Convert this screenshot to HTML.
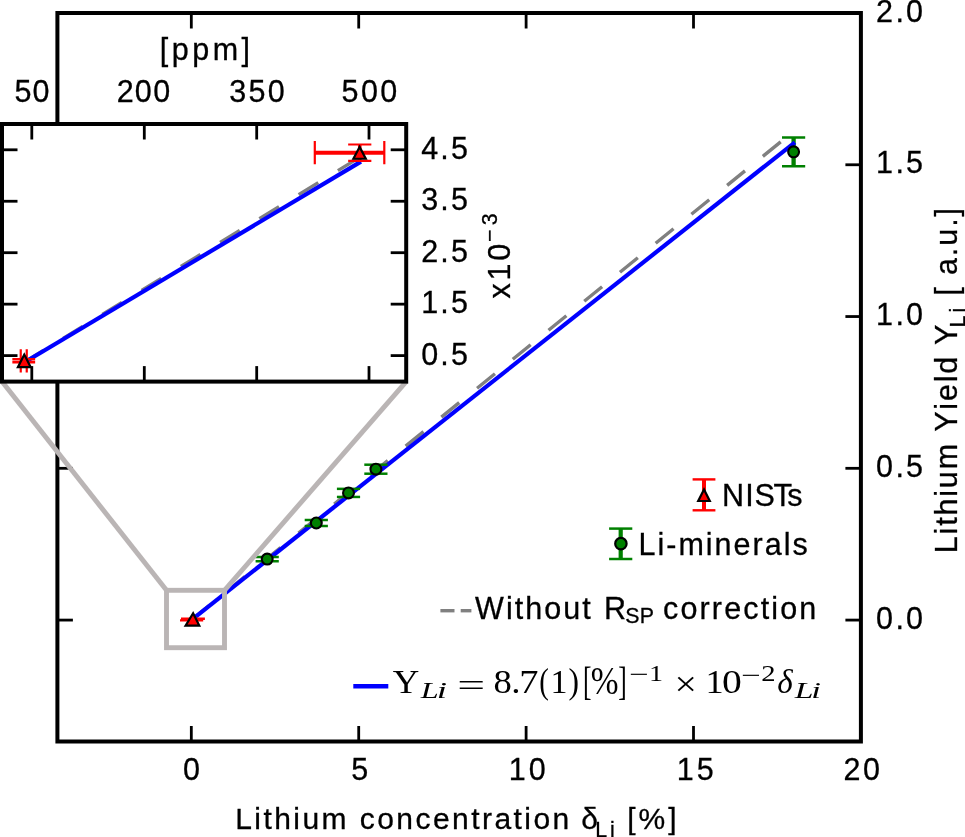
<!DOCTYPE html>
<html><head><meta charset="utf-8"><title>Lithium yield</title>
<style>html,body{margin:0;padding:0;background:#fff;overflow:hidden}svg{display:block}text{font-kerning:none;stroke:#000;stroke-width:0.3px}</style>
</head><body>
<svg width="965" height="837" viewBox="0 0 965 837">
<rect x="0" y="0" width="965" height="837" fill="#fff"/>
<clipPath id="cm"><rect x="57.40" y="13.00" width="803.50" height="728.50"/></clipPath>
<g clip-path="url(#cm)">
<line x1="191.32" y1="620.08" x2="793.94" y2="131.08" stroke="#808080" stroke-width="3.40" stroke-dasharray="23 23"/>
<line x1="267.20" y1="556.95" x2="267.20" y2="561.25" stroke="#008000" stroke-width="4.30"/>
<line x1="316.30" y1="519.90" x2="316.30" y2="526.10" stroke="#008000" stroke-width="4.30"/>
<line x1="348.50" y1="488.85" x2="348.50" y2="496.95" stroke="#008000" stroke-width="4.30"/>
<line x1="375.90" y1="464.70" x2="375.90" y2="473.70" stroke="#008000" stroke-width="4.30"/>
<line x1="793.60" y1="137.40" x2="793.60" y2="166.30" stroke="#008000" stroke-width="4.30"/>
<line x1="191.32" y1="620.08" x2="794.95" y2="142.30" stroke="#0000ff" stroke-width="4.20"/>
<line x1="255.60" y1="556.95" x2="278.80" y2="556.95" stroke="#008000" stroke-width="2.50"/>
<line x1="255.60" y1="561.25" x2="278.80" y2="561.25" stroke="#008000" stroke-width="2.50"/>
<line x1="304.70" y1="519.90" x2="327.90" y2="519.90" stroke="#008000" stroke-width="2.50"/>
<line x1="304.70" y1="526.10" x2="327.90" y2="526.10" stroke="#008000" stroke-width="2.50"/>
<line x1="336.90" y1="488.85" x2="360.10" y2="488.85" stroke="#008000" stroke-width="2.50"/>
<line x1="336.90" y1="496.95" x2="360.10" y2="496.95" stroke="#008000" stroke-width="2.50"/>
<line x1="364.30" y1="464.70" x2="387.50" y2="464.70" stroke="#008000" stroke-width="2.50"/>
<line x1="364.30" y1="473.70" x2="387.50" y2="473.70" stroke="#008000" stroke-width="2.50"/>
<line x1="782.00" y1="137.40" x2="805.20" y2="137.40" stroke="#008000" stroke-width="2.50"/>
<line x1="782.00" y1="166.30" x2="805.20" y2="166.30" stroke="#008000" stroke-width="2.50"/>
<circle cx="267.20" cy="559.10" r="5.45" fill="#008000" stroke="#000" stroke-width="2.1"/>
<circle cx="316.30" cy="523.00" r="5.45" fill="#008000" stroke="#000" stroke-width="2.1"/>
<circle cx="348.50" cy="492.90" r="5.45" fill="#008000" stroke="#000" stroke-width="2.1"/>
<circle cx="375.90" cy="469.20" r="5.45" fill="#008000" stroke="#000" stroke-width="2.1"/>
<circle cx="793.60" cy="151.85" r="5.45" fill="#008000" stroke="#000" stroke-width="2.1"/>
<line x1="180.00" y1="620.45" x2="203.20" y2="620.45" stroke="#ff0000" stroke-width="2.30"/>
<line x1="181.00" y1="618.75" x2="204.90" y2="618.75" stroke="#ff0000" stroke-width="2.30"/>
</g>
<polygon points="193.10,613.30 185.60,625.60 199.30,625.60" fill="#ff0000" stroke="#000" stroke-width="2.2"/>
<line x1="191.32" y1="741.50" x2="191.32" y2="726.00" stroke="#000" stroke-width="2.80"/>
<line x1="191.32" y1="13.00" x2="191.32" y2="28.50" stroke="#000" stroke-width="2.80"/>
<line x1="358.71" y1="741.50" x2="358.71" y2="726.00" stroke="#000" stroke-width="2.80"/>
<line x1="358.71" y1="13.00" x2="358.71" y2="28.50" stroke="#000" stroke-width="2.80"/>
<line x1="526.11" y1="741.50" x2="526.11" y2="726.00" stroke="#000" stroke-width="2.80"/>
<line x1="526.11" y1="13.00" x2="526.11" y2="28.50" stroke="#000" stroke-width="2.80"/>
<line x1="693.50" y1="741.50" x2="693.50" y2="726.00" stroke="#000" stroke-width="2.80"/>
<line x1="693.50" y1="13.00" x2="693.50" y2="28.50" stroke="#000" stroke-width="2.80"/>
<line x1="57.40" y1="620.08" x2="72.90" y2="620.08" stroke="#000" stroke-width="2.80"/>
<line x1="860.90" y1="620.08" x2="845.40" y2="620.08" stroke="#000" stroke-width="2.80"/>
<line x1="57.40" y1="468.31" x2="72.90" y2="468.31" stroke="#000" stroke-width="2.80"/>
<line x1="860.90" y1="468.31" x2="845.40" y2="468.31" stroke="#000" stroke-width="2.80"/>
<line x1="57.40" y1="316.54" x2="72.90" y2="316.54" stroke="#000" stroke-width="2.80"/>
<line x1="860.90" y1="316.54" x2="845.40" y2="316.54" stroke="#000" stroke-width="2.80"/>
<line x1="57.40" y1="164.77" x2="72.90" y2="164.77" stroke="#000" stroke-width="2.80"/>
<line x1="860.90" y1="164.77" x2="845.40" y2="164.77" stroke="#000" stroke-width="2.80"/>
<rect x="57.40" y="13.00" width="803.50" height="728.50" fill="none" stroke="#000" stroke-width="4.00"/>
<text x="182.91" y="780.30" style="font-family:'Liberation Sans',sans-serif;font-size:30.50px;" fill="#000">0</text>
<text x="351.33" y="780.30" style="font-family:'Liberation Sans',sans-serif;font-size:30.50px;" fill="#000">5</text>
<text x="508.68 528.71" y="780.30" style="font-family:'Liberation Sans',sans-serif;font-size:30.50px;" fill="#000">10</text>
<text x="676.68 696.68" y="780.30" style="font-family:'Liberation Sans',sans-serif;font-size:30.50px;" fill="#000">15</text>
<text x="843.47 862.91" y="780.30" style="font-family:'Liberation Sans',sans-serif;font-size:30.50px;" fill="#000">20</text>
<text x="876.10 895.60 905.90" y="21.60" style="font-family:'Liberation Sans',sans-serif;font-size:30.50px;" fill="#000">2.0</text>
<text x="876.10 895.60 905.90" y="173.37" style="font-family:'Liberation Sans',sans-serif;font-size:30.50px;" fill="#000">1.5</text>
<text x="876.10 895.60 905.90" y="325.14" style="font-family:'Liberation Sans',sans-serif;font-size:30.50px;" fill="#000">1.0</text>
<text x="876.10 895.60 905.90" y="476.91" style="font-family:'Liberation Sans',sans-serif;font-size:30.50px;" fill="#000">0.5</text>
<text x="876.10 895.60 905.90" y="628.68" style="font-family:'Liberation Sans',sans-serif;font-size:30.50px;" fill="#000">0.0</text>
<rect x="166.50" y="590.30" width="58.00" height="57.40" fill="none" stroke="#bab5b5" stroke-width="4.9"/>
<line x1="2.00" y1="381.60" x2="166.50" y2="590.30" stroke="#bab5b5" stroke-width="4.90"/>
<line x1="406.20" y1="381.60" x2="224.50" y2="590.30" stroke="#bab5b5" stroke-width="4.90"/>
<rect x="2.00" y="124.00" width="404.20" height="257.60" fill="#fff"/>
<clipPath id="ci"><rect x="2.00" y="124.00" width="404.20" height="257.60"/></clipPath>
<g clip-path="url(#ci)">
<line x1="23.80" y1="362.40" x2="359.75" y2="157.30" stroke="#808080" stroke-width="3.40" stroke-dasharray="23 23"/>
<line x1="23.80" y1="362.80" x2="360.95" y2="161.60" stroke="#0000ff" stroke-width="4.20"/>
<line x1="20.75" y1="360.80" x2="26.75" y2="360.80" stroke="#ff0000" stroke-width="2.40"/>
<line x1="20.75" y1="349.20" x2="20.75" y2="372.40" stroke="#ff0000" stroke-width="2.20"/>
<line x1="26.75" y1="349.20" x2="26.75" y2="372.40" stroke="#ff0000" stroke-width="2.20"/>
<line x1="12.35" y1="359.35" x2="35.15" y2="359.35" stroke="#ff0000" stroke-width="2.50"/>
<line x1="12.35" y1="362.25" x2="35.15" y2="362.25" stroke="#ff0000" stroke-width="2.50"/>
<polygon points="24.30,354.60 17.90,367.20 30.70,367.20" fill="#ff0000" stroke="#000" stroke-width="2.20" stroke-linejoin="miter"/>
<line x1="314.80" y1="152.65" x2="384.30" y2="152.65" stroke="#ff0000" stroke-width="4.00"/>
<line x1="314.80" y1="140.95" x2="314.80" y2="164.35" stroke="#ff0000" stroke-width="2.20"/>
<line x1="384.30" y1="140.95" x2="384.30" y2="164.35" stroke="#ff0000" stroke-width="2.20"/>
<line x1="359.75" y1="144.50" x2="359.75" y2="160.80" stroke="#ff0000" stroke-width="3.60"/>
<line x1="348.15" y1="144.50" x2="371.35" y2="144.50" stroke="#ff0000" stroke-width="2.20"/>
<line x1="348.15" y1="160.80" x2="371.35" y2="160.80" stroke="#ff0000" stroke-width="2.20"/>
<polygon points="359.60,146.95 353.40,158.75 365.80,158.75" fill="#ff0000" stroke="#000" stroke-width="2.20" stroke-linejoin="miter"/>
</g>
<line x1="31.80" y1="124.00" x2="31.80" y2="139.50" stroke="#000" stroke-width="2.80"/>
<line x1="31.80" y1="381.60" x2="31.80" y2="366.10" stroke="#000" stroke-width="2.80"/>
<line x1="144.30" y1="124.00" x2="144.30" y2="139.50" stroke="#000" stroke-width="2.80"/>
<line x1="144.30" y1="381.60" x2="144.30" y2="366.10" stroke="#000" stroke-width="2.80"/>
<line x1="256.70" y1="124.00" x2="256.70" y2="139.50" stroke="#000" stroke-width="2.80"/>
<line x1="256.70" y1="381.60" x2="256.70" y2="366.10" stroke="#000" stroke-width="2.80"/>
<line x1="369.00" y1="124.00" x2="369.00" y2="139.50" stroke="#000" stroke-width="2.80"/>
<line x1="369.00" y1="381.60" x2="369.00" y2="366.10" stroke="#000" stroke-width="2.80"/>
<line x1="2.00" y1="149.80" x2="17.50" y2="149.80" stroke="#000" stroke-width="2.80"/>
<line x1="406.20" y1="149.80" x2="390.70" y2="149.80" stroke="#000" stroke-width="2.80"/>
<line x1="2.00" y1="201.25" x2="17.50" y2="201.25" stroke="#000" stroke-width="2.80"/>
<line x1="406.20" y1="201.25" x2="390.70" y2="201.25" stroke="#000" stroke-width="2.80"/>
<line x1="2.00" y1="252.70" x2="17.50" y2="252.70" stroke="#000" stroke-width="2.80"/>
<line x1="406.20" y1="252.70" x2="390.70" y2="252.70" stroke="#000" stroke-width="2.80"/>
<line x1="2.00" y1="304.15" x2="17.50" y2="304.15" stroke="#000" stroke-width="2.80"/>
<line x1="406.20" y1="304.15" x2="390.70" y2="304.15" stroke="#000" stroke-width="2.80"/>
<line x1="2.00" y1="355.60" x2="17.50" y2="355.60" stroke="#000" stroke-width="2.80"/>
<line x1="406.20" y1="355.60" x2="390.70" y2="355.60" stroke="#000" stroke-width="2.80"/>
<rect x="2.00" y="124.00" width="404.20" height="257.60" fill="none" stroke="#000" stroke-width="4.00"/>
<text x="14.38 32.61" y="102.30" style="font-family:'Liberation Sans',sans-serif;font-size:30.50px;" fill="#000">50</text>
<text x="116.87 134.81 153.31" y="102.30" style="font-family:'Liberation Sans',sans-serif;font-size:30.50px;" fill="#000">200</text>
<text x="229.14 248.48 267.81" y="102.30" style="font-family:'Liberation Sans',sans-serif;font-size:30.50px;" fill="#000">350</text>
<text x="341.38 361.01 380.21" y="102.30" style="font-family:'Liberation Sans',sans-serif;font-size:30.50px;" fill="#000">500</text>
<text x="421.30 440.30 450.90" y="158.70" style="font-family:'Liberation Sans',sans-serif;font-size:30.50px;" fill="#000">4.5</text>
<text x="421.30 440.30 450.90" y="210.15" style="font-family:'Liberation Sans',sans-serif;font-size:30.50px;" fill="#000">3.5</text>
<text x="421.30 440.30 450.90" y="261.60" style="font-family:'Liberation Sans',sans-serif;font-size:30.50px;" fill="#000">2.5</text>
<text x="421.30 440.30 450.90" y="313.05" style="font-family:'Liberation Sans',sans-serif;font-size:30.50px;" fill="#000">1.5</text>
<text x="421.30 440.30 450.90" y="364.50" style="font-family:'Liberation Sans',sans-serif;font-size:30.50px;" fill="#000">0.5</text>
<text x="159.83" y="60.20" style="font-family:'Liberation Sans',sans-serif;font-size:30.50px;letter-spacing:3.47px;" fill="#000">[ppm]</text>
<text x="-0.34" y="0.00" style="font-family:'Liberation Sans',sans-serif;font-size:30.50px;letter-spacing:2.78px;" fill="#000" transform="translate(510.0 298.10) rotate(-90)">x10</text>
<text x="56.05" y="-13.30" style="font-family:'Liberation Sans',sans-serif;font-size:21.35px;" fill="#000" transform="translate(510.0 298.10) rotate(-90)">−</text>
<text x="72.79" y="-13.20" style="font-family:'Liberation Sans',sans-serif;font-size:21.35px;" fill="#000" transform="translate(510.0 298.10) rotate(-90)">3</text>
<line x1="704.00" y1="479.40" x2="704.00" y2="510.30" stroke="#ff0000" stroke-width="4.00"/>
<line x1="692.60" y1="479.40" x2="715.40" y2="479.40" stroke="#ff0000" stroke-width="2.40"/>
<line x1="692.60" y1="510.30" x2="715.40" y2="510.30" stroke="#ff0000" stroke-width="2.40"/>
<polygon points="704.00,489.40 698.20,501.00 709.80,501.00" fill="#ff0000" stroke="#000" stroke-width="2.20" stroke-linejoin="miter"/>
<text x="722.10 745.19 754.41 773.51 787.35" y="505.70" style="font-family:'Liberation Sans',sans-serif;font-size:30.50px;" fill="#000">NISTs</text>
<line x1="620.70" y1="528.60" x2="620.70" y2="559.00" stroke="#008000" stroke-width="4.20"/>
<line x1="609.10" y1="528.60" x2="632.30" y2="528.60" stroke="#008000" stroke-width="2.50"/>
<line x1="609.10" y1="559.00" x2="632.30" y2="559.00" stroke="#008000" stroke-width="2.50"/>
<circle cx="620.90" cy="543.65" r="5.7" fill="#008000" stroke="#000" stroke-width="2.2"/>
<text x="638.40" y="554.60" style="font-family:'Liberation Sans',sans-serif;font-size:30.50px;letter-spacing:2.03px;" fill="#000">Li-minerals</text>
<line x1="440.40" y1="610.70" x2="454.50" y2="610.70" stroke="#808080" stroke-width="3.40"/>
<line x1="460.70" y1="610.70" x2="471.40" y2="610.70" stroke="#808080" stroke-width="3.40"/>
<text x="475.07" y="619.00" style="font-family:'Liberation Sans',sans-serif;font-size:30.50px;letter-spacing:2.06px;" fill="#000">Without</text>
<text x="603.90" y="619.00" style="font-family:'Liberation Sans',sans-serif;font-size:30.50px;" fill="#000">R</text>
<text x="625.23" y="623.30" style="font-family:'Liberation Sans',sans-serif;font-size:21.35px;letter-spacing:0.31px;" fill="#000">SP</text>
<text x="663.00" y="619.00" style="font-family:'Liberation Sans',sans-serif;font-size:30.50px;letter-spacing:2.15px;" fill="#000">correction</text>
<line x1="353.30" y1="686.30" x2="388.30" y2="686.30" stroke="#0000ff" stroke-width="4.40"/>
<text transform="translate(392.69 693.30) scale(1.081 1.000)" style="font-family:'Liberation Serif',serif;font-size:34.00px;stroke:none;">Y</text>
<text transform="translate(420.78 698.40) scale(1.356 1.000)" style="font-family:'Liberation Serif',serif;font-size:23.80px;stroke:none;font-style:italic;">L</text>
<text transform="translate(436.74 698.40) scale(1.555 1.000)" style="font-family:'Liberation Serif',serif;font-size:23.80px;stroke:none;font-style:italic;">i</text>
<text transform="translate(457.14 695.92) scale(1.454 0.941)" style="font-family:'Liberation Serif',serif;font-size:34.00px;stroke:none;">=</text>
<text transform="translate(493.61 693.30) scale(1.076 1.000)" style="font-family:'Liberation Serif',serif;font-size:34.00px;stroke:none;">8</text>
<text transform="translate(511.15 693.30) scale(1.095 1.000)" style="font-family:'Liberation Serif',serif;font-size:34.00px;stroke:none;">.</text>
<text transform="translate(519.16 693.30) scale(1.132 1.000)" style="font-family:'Liberation Serif',serif;font-size:34.00px;stroke:none;">7</text>
<text transform="translate(539.13 692.87) scale(0.847 1.054)" style="font-family:'Liberation Serif',serif;font-size:34.00px;stroke:none;">(</text>
<text x="550.45" y="693.30" style="font-family:'Liberation Serif',serif;font-size:34.00px;stroke:none;">1</text>
<text transform="translate(568.58 692.87) scale(0.928 1.054)" style="font-family:'Liberation Serif',serif;font-size:34.00px;stroke:none;">)</text>
<text transform="translate(583.11 695.25) scale(0.750 1.155)" style="font-family:'Liberation Serif',serif;font-size:34.00px;stroke:none;">[</text>
<text transform="translate(590.66 694.38) scale(0.981 1.171)" style="font-family:'Liberation Serif',serif;font-size:34.00px;stroke:none;">%</text>
<text transform="translate(618.28 695.25) scale(0.750 1.155)" style="font-family:'Liberation Serif',serif;font-size:34.00px;stroke:none;">]</text>
<text transform="translate(629.28 682.40) scale(1.454 1.000)" style="font-family:'Liberation Serif',serif;font-size:23.80px;stroke:none;">−</text>
<text transform="translate(649.03 680.90) scale(1.182 1.000)" style="font-family:'Liberation Serif',serif;font-size:23.80px;stroke:none;">1</text>
<text transform="translate(674.45 696.39) scale(1.171 1.047)" style="font-family:'Liberation Serif',serif;font-size:34.00px;stroke:none;">×</text>
<text transform="translate(705.60 693.30) scale(1.069 1.000)" style="font-family:'Liberation Serif',serif;font-size:34.00px;stroke:none;">1</text>
<text transform="translate(722.09 693.30) scale(1.166 1.000)" style="font-family:'Liberation Serif',serif;font-size:34.00px;stroke:none;">0</text>
<text transform="translate(741.37 682.80) scale(1.463 1.000)" style="font-family:'Liberation Serif',serif;font-size:23.80px;stroke:none;">−</text>
<text transform="translate(761.34 680.90) scale(1.205 1.000)" style="font-family:'Liberation Serif',serif;font-size:23.80px;stroke:none;">2</text>
<text transform="translate(777.13 693.30) scale(0.977 1.000)" style="font-family:'Liberation Serif',serif;font-size:34.00px;stroke:none;font-style:italic;">δ</text>
<text transform="translate(794.69 698.40) scale(1.413 1.000)" style="font-family:'Liberation Serif',serif;font-size:23.80px;stroke:none;font-style:italic;">L</text>
<text transform="translate(811.26 698.40) scale(1.467 1.000)" style="font-family:'Liberation Serif',serif;font-size:23.80px;stroke:none;font-style:italic;">i</text>
<text x="235.24" y="829.00" style="font-family:'Liberation Sans',sans-serif;font-size:30.00px;letter-spacing:2.44px;" fill="#000">Lithium concentration</text>
<text x="581.24" y="829.00" style="font-family:'Liberation Sans',sans-serif;font-size:30.00px;" fill="#000">δ</text>
<text x="595.25" y="837.40" style="font-family:'Liberation Sans',sans-serif;font-size:21.35px;letter-spacing:2.87px;" fill="#000">Li</text>
<text x="627.16" y="829.00" style="font-family:'Liberation Sans',sans-serif;font-size:30.00px;letter-spacing:3.02px;" fill="#000">[%]</text>
<text x="-2.50" y="0.00" style="font-family:'Liberation Sans',sans-serif;font-size:30.50px;letter-spacing:1.82px;" fill="#000" transform="translate(957.2 550.70) rotate(-90)">Lithium Yield</text>
<text x="205.73" y="0.00" style="font-family:'Liberation Sans',sans-serif;font-size:30.50px;" fill="#000" transform="translate(957.2 550.70) rotate(-90)">Y</text>
<text x="223.15" y="7.60" style="font-family:'Liberation Sans',sans-serif;font-size:21.35px;letter-spacing:3.27px;" fill="#000" transform="translate(957.2 550.70) rotate(-90)">Li</text>
<text x="254.83" y="0.00" style="font-family:'Liberation Sans',sans-serif;font-size:30.50px;letter-spacing:1.94px;" fill="#000" transform="translate(957.2 550.70) rotate(-90)">[ a.u.]</text>
</svg>
</body></html>
